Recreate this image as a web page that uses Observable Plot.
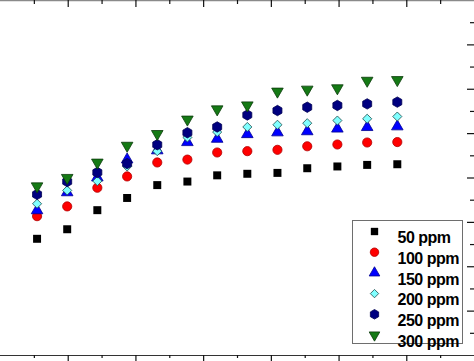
<!DOCTYPE html>
<html>
<head>
<meta charset="utf-8">
<script src="https://cdn.jsdelivr.net/npm/d3@7"></script>
<script src="https://cdn.jsdelivr.net/npm/@observablehq/plot@0.6"></script>
<style>
  html, body { margin: 0; padding: 0; background: #fff; }
  #chart svg { display: block; }
</style>
</head>
<body>
<div id="chart"></div>
<script>
// ---- data ----
const xValues = [10.8, 19.7, 28.6, 37.4, 46.3, 55.2, 64.0, 72.9, 81.8, 90.6, 99.5, 108.3, 117.2];
const series = ["50 ppm", "100 ppm", "150 ppm", "200 ppm", "250 ppm", "300 ppm"];
const y50  = [52.6, 56.9, 65.5, 71.0, 76.8, 78.4, 81.2, 81.9, 82.3, 84.4, 85.2, 85.9, 86.2];
const y100 = [62.8, 67.2, 75.6, 80.7, 87.0, 88.3, 91.5, 92.1, 92.7, 94.3, 95.1, 96.0, 96.2];
const y150 = [65.4, 73.5, 80.2, 88.3, 92.4, 96.1, 97.6, 99.7, 100.5, 101.0, 102.2, 102.9, 103.2];
const y200 = [68.4, 74.4, 78.6, 85.2, 92.1, 98.3, 100.7, 103.0, 104.0, 104.7, 105.9, 106.7, 107.7];
const y250 = [72.6, 78.4, 82.5, 86.5, 95.0, 100.4, 103.0, 108.4, 110.4, 111.9, 112.7, 113.4, 114.2];
const y300 = [76.3, 80.1, 87.0, 94.6, 99.9, 106.4, 111.0, 112.8, 119.0, 119.9, 120.5, 123.9, 124.2];
const xMajor = [20, 40, 60, 80, 100, 120];
const xMinor = [10, 30, 50, 70, 90, 110, 130];
const yMajor = [20, 40, 60, 80, 100, 120, 140];
const yMinor = [10, 30, 50, 70, 90, 110, 130, 150];

// ---- styles ----
const styles = [
  {symbol: "square",   r: 4.5, fill: "#000000", stroke: "none",    rotate: 0},
  {symbol: "circle",   r: 4.6, fill: "#ff0000", stroke: "#b00000", rotate: 0},
  {symbol: "triangle", r: 4.3, fill: "#0000ff", stroke: "#000090", rotate: 0},
  {symbol: "diamond2", r: 4.1, fill: "#80ffff", stroke: "#1a4a4a", rotate: 0},
  {symbol: "hexagon",  r: 4.5, fill: "#000080", stroke: "#000050", rotate: 0},
  {symbol: "triangle", r: 4.3, fill: "#157a15", stroke: "#0a3a0a", rotate: 180}
];
const ys = [y50, y100, y150, y200, y250, y300];
const table = series.map((s, i) => xValues.map((x, j) => ({series: s, x, y: ys[i][j]})));

const W = 474, H = 361;
const legendRowY = [231, 251.7, 272.4, 293.1, 313.8, 334.5];

const marks = [
  // frame lines
  Plot.ruleY([160], {stroke: "#8a8a8a", strokeWidth: 1.5}),
  Plot.ruleY([0], {stroke: "#333", strokeWidth: 1.2}),
  // top ticks (inward)
  Plot.ruleX(xMajor, {x: d => d, insetBottom: 348, stroke: "#111", strokeWidth: 1.2}),
  Plot.ruleX(xMinor, {x: d => d, insetBottom: 351, stroke: "#111", strokeWidth: 1.2}),
  // bottom ticks (outward)
  Plot.ruleX(xMajor, {x: d => d, insetTop: 355, insetBottom: -6, stroke: "#111", strokeWidth: 1.2}),
  Plot.ruleX(xMinor, {x: d => d, insetTop: 355, insetBottom: -3, stroke: "#111", strokeWidth: 1.2}),
  // right ticks (inward)
  Plot.ruleY(yMajor, {y: d => d, insetLeft: 467, stroke: "#111", strokeWidth: 1.2}),
  Plot.ruleY(yMinor, {y: d => d, insetLeft: 470, stroke: "#111", strokeWidth: 1.2}),
];

// data points
table.forEach((rows, i) => {
  const s = styles[i];
  marks.push(Plot.dot(rows, {x: "x", y: "y", symbol: s.symbol, r: s.r, fill: s.fill,
    stroke: s.stroke, strokeWidth: 0.8, rotate: s.rotate}));
});

// legend
marks.push(Plot.frame({insetLeft: 352, insetTop: 220, insetRight: W - 462, insetBottom: 355 - 343,
  fill: "white", stroke: "#6e6e6e", strokeWidth: 1}));
series.forEach((name, i) => {
  const s = styles[i];
  marks.push(Plot.dot([name], {frameAnchor: "top-left", dx: 374, dy: legendRowY[i],
    symbol: s.symbol, r: s.r * 0.92, fill: s.fill, stroke: s.stroke, strokeWidth: 0.8, rotate: s.rotate}));
  marks.push(Plot.text([name], {frameAnchor: "top-left", dx: 397, dy: legendRowY[i] + 0.5, text: d => d,
    textAnchor: "start", fontWeight: "bold", fontSize: 16,
    fontFamily: "Liberation Sans, Arial, sans-serif", fill: "#000"}));
});

const chart = Plot.plot({
  width: W,
  height: H,
  marginTop: 0,
  marginBottom: 6,
  marginLeft: 0,
  marginRight: 0,
  style: {background: "#fff", overflow: "visible"},
  x: {domain: [0, 140], axis: null},
  y: {domain: [0, 160], axis: null},
  marks
});
chart.querySelectorAll("text").forEach(t => t.style.letterSpacing = "-0.5px");
document.getElementById("chart").append(chart);
</script>
</body>
</html>
